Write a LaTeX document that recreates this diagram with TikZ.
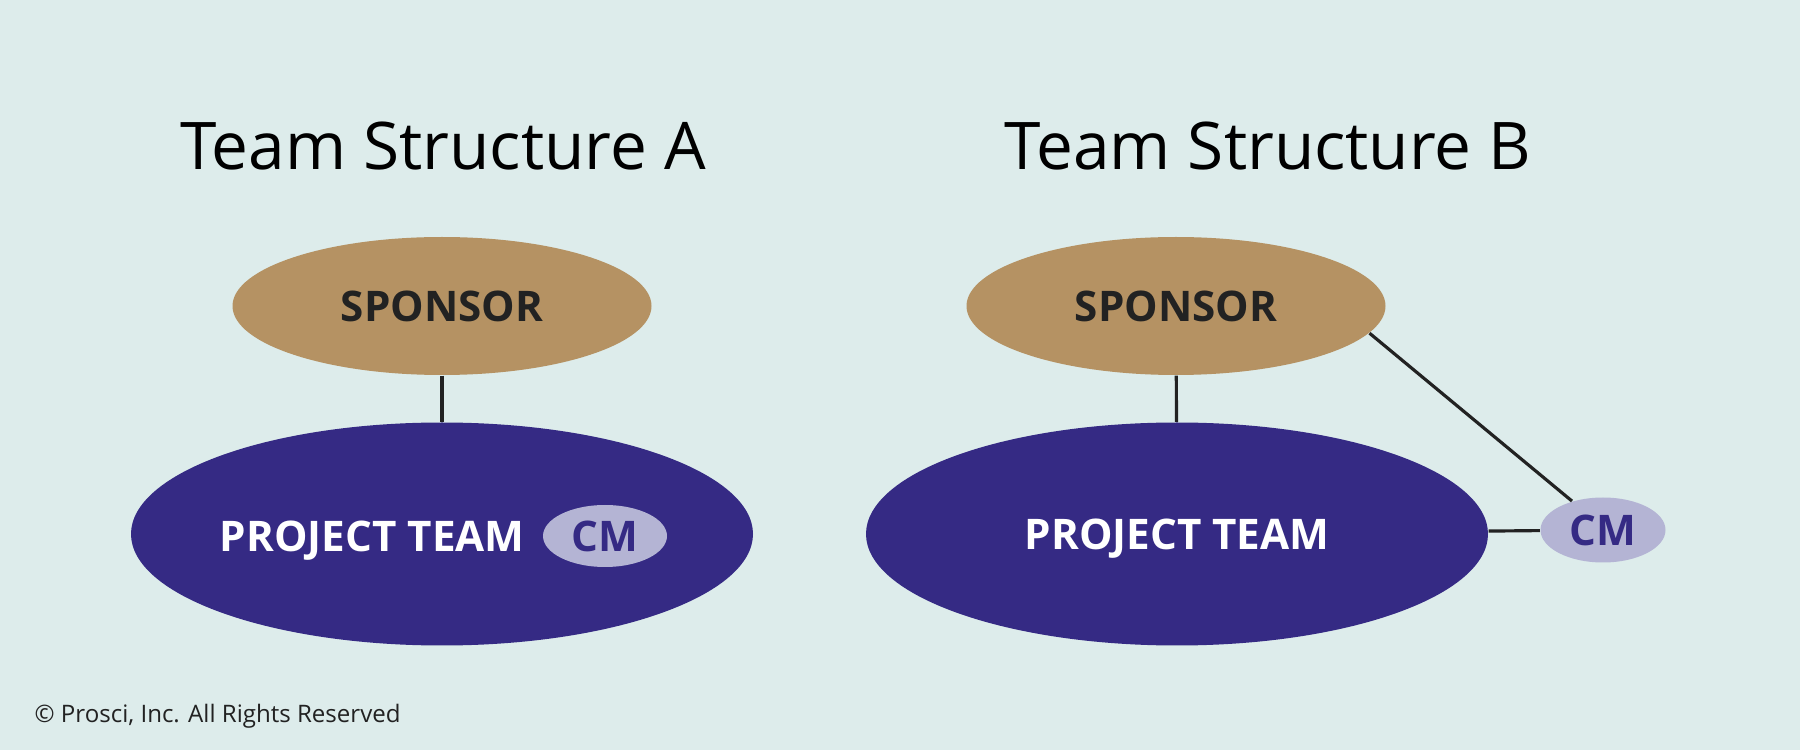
\documentclass[tikz,border=0pt]{standalone}
\usepackage{fontspec}
\setmainfont{Open Sans}
\usetikzlibrary{positioning, shapes.geometric}
\definecolor{bgteal}{HTML}{DDECEB}
\definecolor{sponsorgold}{HTML}{B59263}
\definecolor{teamindigo}{HTML}{352A84}
\definecolor{cmlilac}{HTML}{B4B4D4}
\definecolor{inkdark}{HTML}{222222}

\begin{document}
\begin{tikzpicture}[
  heading/.style={anchor=base, inner sep=0pt, font=\fontsize{18.7}{22}\selectfont, text=black},
  sponsor/.style={ellipse, fill=sponsorgold, inner sep=0pt, minimum width=4.19cm, minimum height=1.38cm,
    font=\fontsize{12}{14}\selectfont\bfseries, text=inkdark},
  team/.style={ellipse, fill=teamindigo, inner sep=0pt, minimum width=6.22cm, minimum height=2.23cm,
    font=\fontsize{12}{14}\selectfont\bfseries, text=white, text depth=0pt},
  teamlabel/.style={inner sep=0pt, font=\fontsize{12}{14}\selectfont\bfseries, text=white, text depth=0pt},
  cmbubble/.style={ellipse, fill=cmlilac, inner sep=0pt, minimum width=1.24cm, minimum height=0.62cm,
    font=\fontsize{12}{14}\selectfont\bfseries, text=teamindigo},
  link/.style={draw=inkdark, line width=0.9pt}
]
  % baggrund
  \fill[bgteal] (0,0) rectangle (18,7.5);
  % struktur A
  \node[heading] (titleA) at (4.43,5.80) {Team Structure A};
  \node[sponsor] (spA) at (4.42,4.44) {SPONSOR};
  \node[team] (ptA) at (4.42,2.16) {};
  \node[cmbubble] (cmA) at (6.05,2.14) {CM};
  \node[teamlabel, left=0.17cm of cmA] (ptAlabel) {PROJECT TEAM};
  \draw[link] (spA) -- (ptA);
  % struktur B
  \node[heading] (titleB) at (12.68,5.80) {Team Structure B};
  \node[sponsor] (spB) at (11.76,4.44) {SPONSOR};
  \node[team] (ptB) at (11.77,2.16) {PROJECT TEAM};
  \node[cmbubble, minimum width=1.25cm, minimum height=0.65cm] (cmB) at (16.03,2.20) {CM};
  \draw[link] (spB) -- (ptB);
  \draw[link] (ptB) -- (cmB);
  \draw[link] (spB.-8) -- (cmB.137);
  % copyright
  \node[anchor=base west, inner sep=0pt, font=\fontsize{6.85}{8}\selectfont, text=inkdark] (copyright)
    at (0.34,0.27) {© Prosci, Inc. All Rights Reserved};
\end{tikzpicture}
\end{document}
